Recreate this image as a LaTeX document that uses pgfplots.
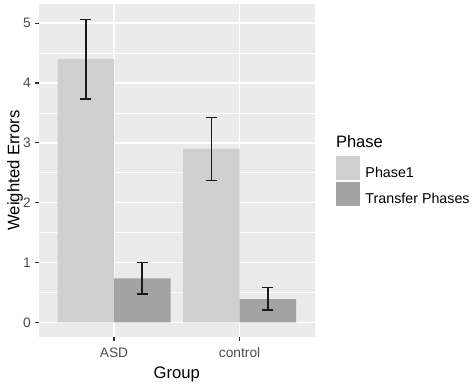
\documentclass[border=0pt]{standalone}
\usepackage{fontspec}
\setmainfont{Liberation Sans}
\usepackage{pgfplots}
\pgfplotsset{compat=1.18}
\definecolor{panelbg}{HTML}{EBEBEB}
\definecolor{phaseone}{HTML}{CFCFCF}
\definecolor{transfer}{HTML}{A3A3A3}
\definecolor{ticklab}{HTML}{4D4D4D}
\definecolor{tickcol}{HTML}{333333}
\definecolor{errcol}{HTML}{1A1A1A}
\begin{document}
\begin{tikzpicture}
\useasboundingbox (0,0) rectangle (355.5pt,288.75pt);
\begin{axis}[
  at={(29pt,36pt)}, anchor=south west,
  scale only axis, width=207.2pt, height=249.75pt,
  xmin=0.4, xmax=2.6, ymin=-0.246, ymax=5.32,
  axis background/.style={fill=panelbg},
  axis lines*=left, axis line style={draw=none},
  tick align=outside, major tick length=2.75pt, minor tick length=0pt,
  tick style={color=tickcol, line width=0.8pt},
  xtick={1,2}, xticklabels={ASD,control},
  ytick={0,1,2,3,4,5},
  minor ytick={0.5,1.5,2.5,3.5,4.5},
  xmajorgrids, ymajorgrids, yminorgrids,
  major grid style={white, line width=1.1pt},
  minor grid style={white, line width=0.55pt},
  /pgf/number format/assume math mode=true,
  ticklabel style={font=\fontsize{10.3}{12}\selectfont, text=ticklab},
  yticklabel style={anchor=east, inner sep=0pt, xshift=-3pt},
  xticklabel style={anchor=base, inner sep=0pt, yshift=-12.5pt},
  ylabel={Weighted Errors},
  ylabel style={at={(axis description cs:-0.0700,0.5)}, anchor=base, font=\fontsize{12.5}{15}\selectfont},
  xlabel={Group},
  xlabel style={at={(axis description cs:0.5,-0.1241)}, anchor=base, font=\fontsize{12.5}{15}\selectfont},
  ybar, bar width=0.45,
  legend style={at={(axis description cs:1.0749,0.5444)}, anchor=north west,
    draw=none, fill=none, inner sep=0pt, row sep=1.3pt,
    font=\fontsize{10.7}{13}\selectfont,
    nodes={inner sep=0pt},
    /tikz/every odd column/.append style={column sep=4pt}},
  legend cell align=left,
  legend image code/.code={\fill[#1] (0pt,-5.3pt) rectangle (18.2pt,12.9pt);},
]
\addplot[fill=phaseone, draw=none, bar shift=-0.225,
  error bars/.cd, y dir=both, y explicit,
  error bar style={errcol, line width=1.2pt},
  error mark options={rotate=90, errcol, mark size=4.1pt, line width=1.2pt}]
  coordinates {(1,4.40) += (0,0.66) -= (0,0.67)
               (2,2.90) += (0,0.52) -= (0,0.53)};
\addlegendentry{Phase1}
\addplot[fill=transfer, draw=none, bar shift=0.225,
  error bars/.cd, y dir=both, y explicit,
  error bar style={errcol, line width=1.2pt},
  error mark options={rotate=90, errcol, mark size=4.1pt, line width=1.2pt}]
  coordinates {(1,0.735) += (0,0.265) -= (0,0.265)
               (2,0.385) += (0,0.195) -= (0,0.175)};
\addlegendentry{Transfer Phases}
\end{axis}
\node[anchor=base west, inner sep=0pt, font=\fontsize{12.4}{15}\selectfont] at (251.8pt,177.75pt) {Phase};
\end{tikzpicture}
\end{document}
